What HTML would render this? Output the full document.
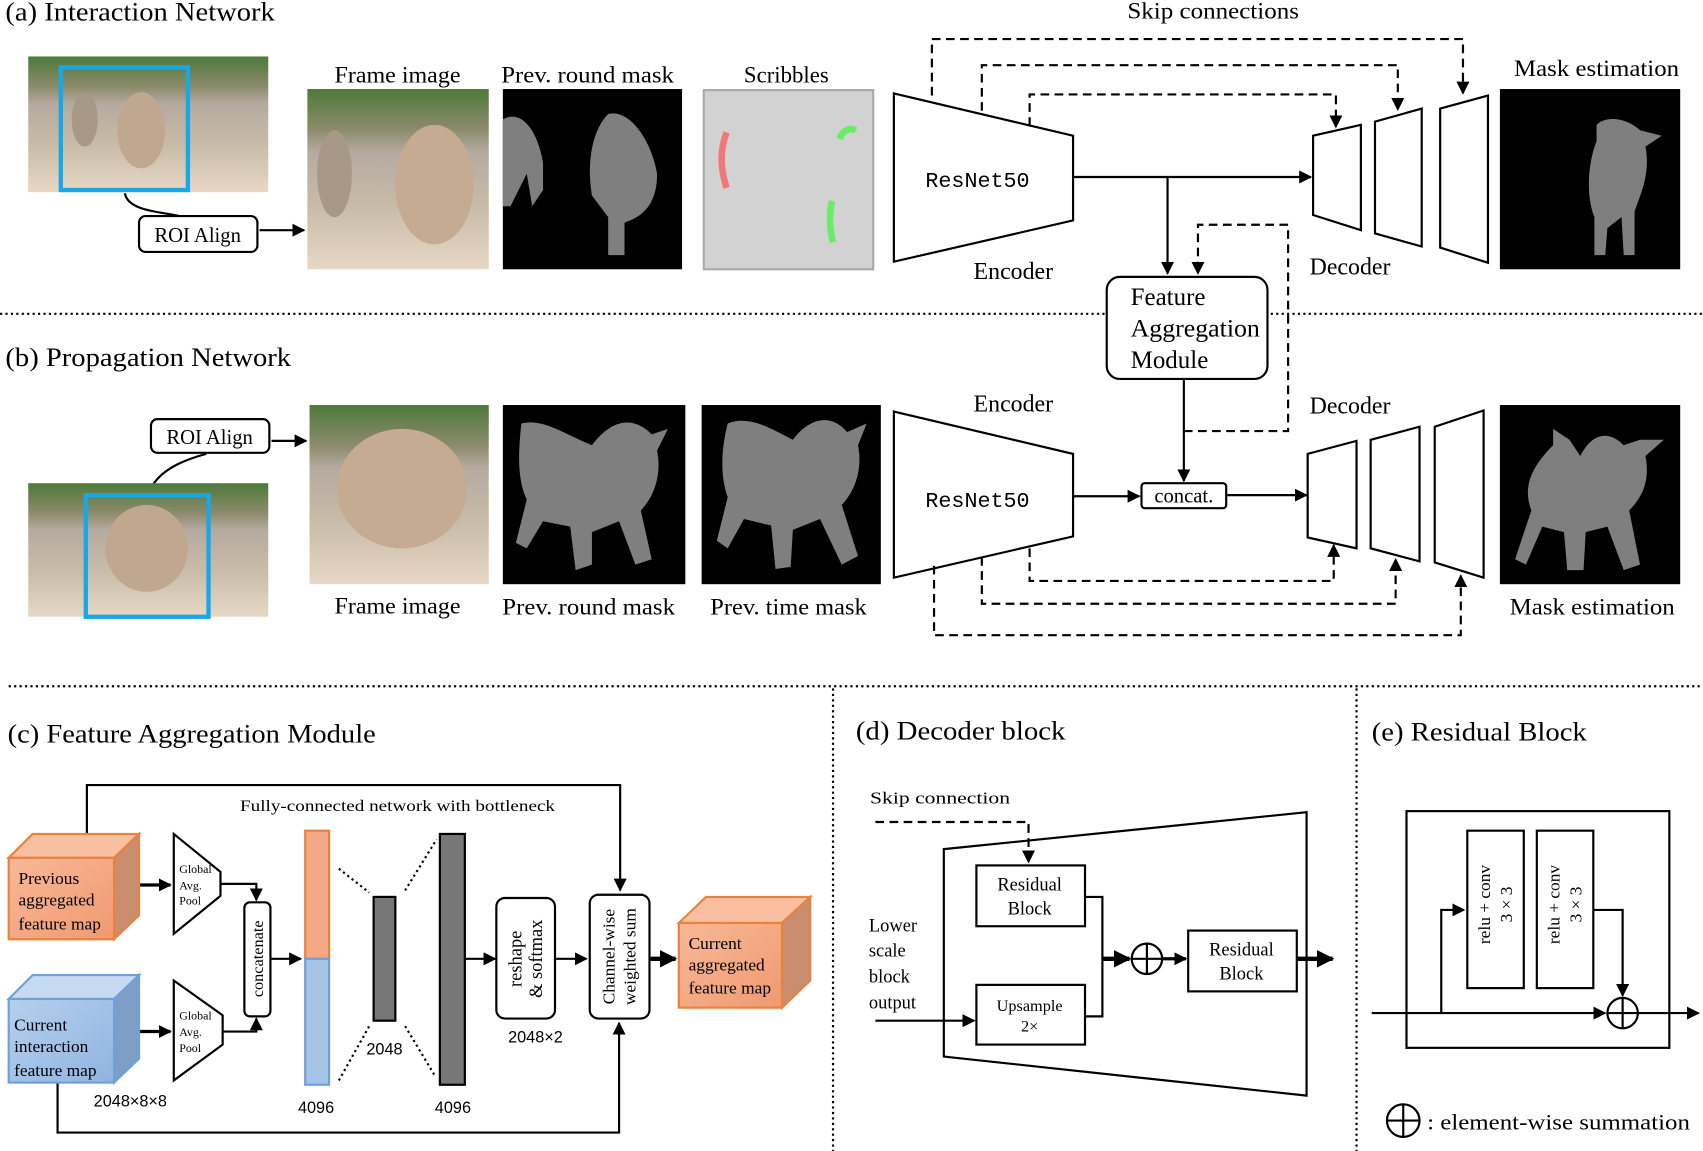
<!DOCTYPE html>
<html><head><meta charset="utf-8"><style>
html,body{margin:0;padding:0;background:#fff;width:1703px;height:1151px;overflow:hidden}
svg{display:block}
text{font-family:"Liberation Serif",serif;fill:#000}
.m{font-family:"Liberation Mono",monospace}
.s{font-family:"Liberation Sans",sans-serif}
</style></head><body>
<svg width="1703" height="1151" viewBox="0 0 1568 1060" preserveAspectRatio="none" xmlns="http://www.w3.org/2000/svg">
<defs>
<marker id="a" viewBox="0 0 10 10" refX="9" refY="5" markerWidth="6" markerHeight="6" orient="auto"><path d="M0,0L10,5L0,10z" fill="#000"/></marker>
<marker id="b" viewBox="0 0 10 10" refX="9" refY="5" markerWidth="4" markerHeight="4" orient="auto"><path d="M0,0L10,5L0,10z" fill="#000"/></marker>
<linearGradient id="ph" x1="0" y1="0" x2="0" y2="1"><stop offset="0" stop-color="#4e7a3a"/><stop offset="0.22" stop-color="#8b8a6a"/><stop offset="0.35" stop-color="#b5aaa0"/><stop offset="0.65" stop-color="#c8bba8"/><stop offset="1" stop-color="#e6d8c4"/></linearGradient>
<linearGradient id="or" x1="0" y1="0" x2="1" y2="1"><stop offset="0" stop-color="#f8b898"/><stop offset="1" stop-color="#f09a70"/></linearGradient>
<linearGradient id="bl" x1="0" y1="0" x2="1" y2="1"><stop offset="0" stop-color="#b6d0ee"/><stop offset="1" stop-color="#8fb4e0"/></linearGradient>
</defs>
<g fill="none" stroke="#000" stroke-width="2">
<!-- (a) -->
<text x="5" y="19" font-size="24" stroke="none" textLength="248" lengthAdjust="spacingAndGlyphs">(a) Interaction Network</text>
<rect x="26" y="52" width="221" height="125" fill="url(#ph)" stroke="none"/>
<ellipse cx="130" cy="120" rx="22" ry="35" fill="#c0a890" stroke="none"/>
<ellipse cx="78" cy="110" rx="12" ry="25" fill="#a89888" stroke="none"/>
<rect x="56" y="62" width="117" height="113" stroke="#1aa7e6" stroke-width="4"/>
<path d="M115,178 C118,195 150,195 165,199"/>
<rect x="128" y="199" width="109" height="33" rx="6"/>
<text x="182" y="223" font-size="19" text-anchor="middle" stroke="none">ROI Align</text>
<line x1="239" y1="212" x2="280" y2="212" marker-end="url(#a)"/>
<rect x="283" y="82" width="167" height="166" fill="url(#ph)" stroke="none"/>
<ellipse cx="400" cy="170" rx="36" ry="55" fill="#c4ab92" stroke="none"/>
<ellipse cx="308" cy="160" rx="16" ry="40" fill="#a89888" stroke="none"/>
<text x="366" y="76" font-size="21" text-anchor="middle" stroke="none" textLength="116" lengthAdjust="spacingAndGlyphs">Frame image</text>
<rect x="463" y="82" width="165" height="166" fill="#000" stroke="none"/>
<path d="M463,110 C480,100 495,120 500,150 L500,175 L490,190 L485,160 L470,190 L463,190Z" fill="#7f7f7f" stroke="none"/>
<path d="M560,105 C580,100 600,130 605,160 C605,190 590,200 575,205 L575,235 L560,235 L560,200 L545,180 C540,150 545,120 560,105Z" fill="#7f7f7f" stroke="none"/>
<text x="541" y="76" font-size="21" text-anchor="middle" stroke="none" textLength="159" lengthAdjust="spacingAndGlyphs">Prev. round mask</text>
<rect x="648" y="83" width="156" height="165" fill="#d2d2d2" stroke="#aaa" stroke-width="2"/>
<path d="M669,122 C662,140 664,158 669,173" stroke="#f07878" stroke-width="6"/>
<path d="M773,128 C776,120 782,117 788,120" stroke="#66ee66" stroke-width="6"/>
<path d="M766,185 C763,200 764,212 767,223" stroke="#66ee66" stroke-width="6"/>
<text x="724" y="76" font-size="21" text-anchor="middle" stroke="none">Scribbles</text>
<path d="M823,86 L988,125 L988,203 L823,241Z"/>
<text x="900" y="172" font-size="20" text-anchor="middle" class="m" stroke="none">ResNet50</text>
<text x="933" y="257" font-size="22" text-anchor="middle" stroke="none">Encoder</text>
<line x1="988" y1="163" x2="1207" y2="163" marker-end="url(#a)"/>
<path d="M1209,125 L1253,115 L1253,212 L1209,198Z"/>
<path d="M1266,112 L1309,100 L1309,227 L1266,215Z"/>
<path d="M1326,100 L1370,88 L1370,242 L1326,228Z"/>
<text x="1243" y="253" font-size="22" text-anchor="middle" stroke="none">Decoder</text>
<rect x="1381" y="82" width="166" height="166" fill="#000" stroke="none"/>
<path d="M1470,115 C1480,105 1500,110 1510,120 L1530,125 L1515,135 C1520,160 1510,180 1505,195 L1505,235 L1495,235 L1493,200 L1480,210 L1478,235 L1468,235 L1468,200 C1460,180 1462,150 1470,130Z" fill="#7f7f7f" stroke="none"/>
<text x="1470" y="70" font-size="21" text-anchor="middle" stroke="none" textLength="152" lengthAdjust="spacingAndGlyphs">Mask estimation</text>
<g stroke-dasharray="8,5">
<path d="M858,88 L858,36 L1347,36 L1347,86" marker-end="url(#a)"/>
<path d="M904,102 L904,60 L1287,60 L1287,101" marker-end="url(#a)"/>
<path d="M948,116 L948,87 L1230,87 L1230,117" marker-end="url(#a)"/>
<path d="M1090,397 L1186,397 L1186,207 L1103,207 L1103,252" marker-end="url(#a)"/>
</g>
<text x="1117" y="17" font-size="21" text-anchor="middle" stroke="none" textLength="158" lengthAdjust="spacingAndGlyphs">Skip connections</text>
<line x1="1075" y1="163" x2="1075" y2="252" marker-end="url(#a)"/>
<line x1="0" y1="289" x2="1568" y2="289" stroke-dasharray="2,3"/>
<rect x="1019" y="255" width="148" height="94" rx="12" fill="#fff"/>
<text x="1041" y="281" font-size="23" stroke="none">Feature</text>
<text x="1041" y="310" font-size="23" stroke="none" textLength="119" lengthAdjust="spacingAndGlyphs">Aggregation</text>
<text x="1041" y="339" font-size="23" stroke="none">Module</text>
<!-- (b) -->
<text x="5" y="337" font-size="24" stroke="none" textLength="263" lengthAdjust="spacingAndGlyphs">(b) Propagation Network</text>
<rect x="139" y="386" width="109" height="31" rx="6"/>
<text x="193" y="409" font-size="19" text-anchor="middle" stroke="none">ROI Align</text>
<line x1="250" y1="406" x2="282" y2="406" marker-end="url(#a)"/>
<path d="M140,448 C150,430 175,422 190,418"/>
<rect x="26" y="445" width="221" height="123" fill="url(#ph)" stroke="none"/>
<ellipse cx="135" cy="505" rx="38" ry="40" fill="#c0a890" stroke="none"/>
<rect x="79" y="456" width="113" height="112" stroke="#1aa7e6" stroke-width="4"/>
<rect x="285" y="373" width="165" height="165" fill="url(#ph)" stroke="none"/>
<ellipse cx="370" cy="450" rx="60" ry="55" fill="#c4ab92" stroke="none"/>
<text x="366" y="565" font-size="21" text-anchor="middle" stroke="none" textLength="116" lengthAdjust="spacingAndGlyphs">Frame image</text>
<rect x="463" y="373" width="168" height="165" fill="#000" stroke="none"/>
<path d="M480,390 C500,385 520,400 545,410 C560,390 580,380 600,400 L615,395 L605,415 C610,440 600,460 590,470 L600,515 L585,520 L570,480 L545,490 L545,520 L530,525 L525,485 L500,480 L485,505 L475,500 L485,460 C475,440 478,410 480,390Z" fill="#7f7f7f" stroke="none"/>
<text x="542" y="566" font-size="21" text-anchor="middle" stroke="none" textLength="159" lengthAdjust="spacingAndGlyphs">Prev. round mask</text>
<rect x="646" y="373" width="165" height="165" fill="#000" stroke="none"/>
<path d="M670,390 C690,382 710,395 730,405 C745,385 765,380 780,398 L798,390 L790,410 C795,435 785,455 775,465 L790,512 L775,520 L755,478 L730,488 L728,522 L714,524 L710,484 L685,478 L670,505 L660,498 L670,458 C662,435 665,410 670,390Z" fill="#7f7f7f" stroke="none"/>
<text x="726" y="566" font-size="21" text-anchor="middle" stroke="none" textLength="144" lengthAdjust="spacingAndGlyphs">Prev. time mask</text>
<path d="M823,379 L988,418 L988,494 L823,532Z"/>
<text x="900" y="467" font-size="20" text-anchor="middle" class="m" stroke="none">ResNet50</text>
<text x="933" y="379" font-size="22" text-anchor="middle" stroke="none">Encoder</text>
<line x1="1090" y1="349" x2="1090" y2="443" marker-end="url(#a)"/>
<line x1="988" y1="457" x2="1049" y2="457" marker-end="url(#a)"/>
<rect x="1051" y="445" width="78" height="23" rx="3"/>
<text x="1090" y="463" font-size="19" text-anchor="middle" stroke="none">concat.</text>
<line x1="1130" y1="456" x2="1203" y2="456" marker-end="url(#a)"/>
<path d="M1204,418 L1249,406 L1249,505 L1204,495Z"/>
<path d="M1262,405 L1307,393 L1307,517 L1262,505Z"/>
<path d="M1321,393 L1366,378 L1366,532 L1321,518Z"/>
<text x="1243" y="381" font-size="22" text-anchor="middle" stroke="none">Decoder</text>
<rect x="1381" y="373" width="166" height="165" fill="#000" stroke="none"/>
<path d="M1430,395 L1445,405 L1455,420 C1465,400 1480,395 1495,410 L1510,405 L1532,405 L1515,420 C1520,445 1510,460 1500,470 L1510,520 L1495,525 L1480,485 L1460,490 L1458,525 L1443,525 L1440,490 L1420,485 L1405,520 L1395,515 L1410,470 C1400,445 1415,425 1430,410Z" fill="#7f7f7f" stroke="none"/>
<text x="1466" y="566" font-size="21" text-anchor="middle" stroke="none" textLength="152" lengthAdjust="spacingAndGlyphs">Mask estimation</text>
<g stroke-dasharray="8,5">
<path d="M948,505 L948,535 L1228,535 L1228,502" marker-end="url(#a)"/>
<path d="M904,513 L904,556 L1285,556 L1285,515" marker-end="url(#a)"/>
<path d="M860,521 L860,585 L1345,585 L1345,530" marker-end="url(#a)"/>
</g>
<line x1="8" y1="632" x2="1565" y2="632" stroke-dasharray="2,3"/>
<line x1="767" y1="634" x2="767" y2="1060" stroke-dasharray="2,3"/>
<line x1="1249" y1="634" x2="1249" y2="1060" stroke-dasharray="2,3"/>
<!-- (c) -->
<text x="7" y="684" font-size="24" stroke="none" textLength="339" lengthAdjust="spacingAndGlyphs">(c) Feature Aggregation Module</text>
<text x="366" y="747" font-size="15" text-anchor="middle" stroke="none" textLength="290" lengthAdjust="spacingAndGlyphs">Fully-connected network with bottleneck</text>
<path d="M80,768 L80,723 L571,723 L571,820" marker-end="url(#a)"/>
<path d="M53,997 L53,1043 L570,1043 L570,942" marker-end="url(#a)"/>
<path d="M8,790 L30,768 L128,768 L105,790Z" fill="#f8c0a0" stroke="#e8823f"/>
<path d="M105,790 L128,768 L128,843 L105,865Z" fill="#c98e70" stroke="#e8823f"/>
<rect x="8" y="790" width="97" height="75" fill="url(#or)" stroke="#e8823f"/>
<text x="17" y="814" font-size="16" stroke="none">Previous</text>
<text x="17" y="834" font-size="16" stroke="none">aggregated</text>
<text x="17" y="856" font-size="16" stroke="none">feature map</text>
<path d="M8,920 L30,898 L128,898 L105,920Z" fill="#c6daf2" stroke="#6fa0d8"/>
<path d="M105,920 L128,898 L128,975 L105,997Z" fill="#7d9ec6" stroke="#6fa0d8"/>
<rect x="8" y="920" width="97" height="77" fill="url(#bl)" stroke="#6fa0d8"/>
<text x="13" y="949" font-size="16" stroke="none">Current</text>
<text x="13" y="969" font-size="16" stroke="none">interaction</text>
<text x="13" y="991" font-size="16" stroke="none">feature map</text>
<text x="120" y="1019" font-size="15" text-anchor="middle" class="s" stroke="none">2048×8×8</text>
<line x1="129" y1="815" x2="157" y2="815" stroke-width="3" marker-end="url(#b)"/>
<line x1="129" y1="950" x2="157" y2="950" stroke-width="3" marker-end="url(#b)"/>
<path d="M160,768 L203,803 L203,825 L160,860Z"/>
<text x="165" y="804" font-size="11" stroke="none">Global</text>
<text x="165" y="819" font-size="11" stroke="none">Avg.</text>
<text x="165" y="833" font-size="11" stroke="none">Pool</text>
<path d="M160,903 L205,935 L205,962 L160,995Z"/>
<text x="165" y="939" font-size="11" stroke="none">Global</text>
<text x="165" y="954" font-size="11" stroke="none">Avg.</text>
<text x="165" y="969" font-size="11" stroke="none">Pool</text>
<path d="M203,814 L236,814 L236,829" marker-end="url(#a)"/>
<path d="M205,950 L236,950 L236,938" marker-end="url(#a)"/>
<rect x="225" y="831" width="24" height="105" rx="5"/>
<text transform="translate(242,883) rotate(-90)" font-size="15" text-anchor="middle" stroke="none">concatenate</text>
<line x1="250" y1="883" x2="277" y2="883" marker-end="url(#a)"/>
<rect x="281" y="765" width="22" height="118" fill="#f4a886" stroke="#e8823f"/>
<rect x="281" y="883" width="22" height="116" fill="#a6c4e6" stroke="#6fa0d8"/>
<g stroke-dasharray="2,3"><line x1="312" y1="800" x2="340" y2="822"/><line x1="373" y1="820" x2="402" y2="773"/><line x1="312" y1="995" x2="340" y2="945"/><line x1="373" y1="945" x2="400" y2="990"/></g>
<rect x="344" y="826" width="20" height="114" fill="#777"/>
<rect x="405" y="768" width="23" height="231" fill="#777"/>
<text x="354" y="971" font-size="15" text-anchor="middle" class="s" stroke="none">2048</text>
<text x="291" y="1025" font-size="15" text-anchor="middle" class="s" stroke="none">4096</text>
<text x="417" y="1025" font-size="15" text-anchor="middle" class="s" stroke="none">4096</text>
<line x1="428" y1="883" x2="456" y2="883" marker-end="url(#a)"/>
<rect x="457" y="827" width="54" height="111" rx="8"/>
<text transform="translate(480,883) rotate(-90)" font-size="17" text-anchor="middle" stroke="none">reshape</text>
<text transform="translate(499,883) rotate(-90)" font-size="17" text-anchor="middle" stroke="none">&amp; softmax</text>
<text x="493" y="960" font-size="15" text-anchor="middle" class="s" stroke="none">2048×2</text>
<line x1="512" y1="883" x2="540" y2="883" marker-end="url(#a)"/>
<rect x="543" y="824" width="55" height="114" rx="8"/>
<text transform="translate(566,881) rotate(-90)" font-size="16" text-anchor="middle" stroke="none">Channel-wise</text>
<text transform="translate(585,881) rotate(-90)" font-size="16" text-anchor="middle" stroke="none">weighted sum</text>
<line x1="599" y1="883" x2="622" y2="883" stroke-width="4" marker-end="url(#b)"/>
<path d="M625,850 L650,826 L746,826 L720,850Z" fill="#f8c0a0" stroke="#e8823f"/>
<path d="M720,850 L746,826 L746,903 L720,928Z" fill="#c98e70" stroke="#e8823f"/>
<rect x="625" y="850" width="95" height="78" fill="url(#or)" stroke="#e8823f"/>
<text x="634" y="874" font-size="16" stroke="none">Current</text>
<text x="634" y="894" font-size="16" stroke="none">aggregated</text>
<text x="634" y="915" font-size="16" stroke="none">feature map</text>
<!-- (d) -->
<text x="788" y="681" font-size="24" stroke="none" textLength="193" lengthAdjust="spacingAndGlyphs">(d) Decoder block</text>
<text x="801" y="740" font-size="16" stroke="none" textLength="129" lengthAdjust="spacingAndGlyphs">Skip connection</text>
<path d="M869,782 L1203,748 L1203,1009 L869,973Z"/>
<path d="M806,757 L947,757 L947,794" stroke-dasharray="8,5" marker-end="url(#a)"/>
<rect x="899" y="797" width="100" height="56" fill="#fff"/>
<text x="948" y="820" font-size="17" text-anchor="middle" stroke="none">Residual</text>
<text x="948" y="842" font-size="17" text-anchor="middle" stroke="none">Block</text>
<rect x="899" y="907" width="100" height="55"/>
<text x="948" y="931" font-size="15" text-anchor="middle" stroke="none">Upsample</text>
<text x="948" y="950" font-size="15" text-anchor="middle" stroke="none">2×</text>
<path d="M999,826 L1015,826 L1015,936 L999,936"/>
<line x1="1015" y1="883" x2="1040" y2="883" stroke-width="4" marker-end="url(#b)"/>
<circle cx="1056" cy="883" r="14"/><line x1="1042" y1="883" x2="1070" y2="883"/><line x1="1056" y1="869" x2="1056" y2="897"/>
<line x1="1070" y1="883" x2="1092" y2="883" stroke-width="3" marker-end="url(#b)"/>
<rect x="1094" y="857" width="100" height="56"/>
<text x="1143" y="880" font-size="17" text-anchor="middle" stroke="none">Residual</text>
<text x="1143" y="902" font-size="17" text-anchor="middle" stroke="none">Block</text>
<line x1="1195" y1="883" x2="1227" y2="883" stroke-width="4" marker-end="url(#b)"/>
<text x="800" y="858" font-size="17" stroke="none">Lower</text>
<text x="800" y="881" font-size="17" stroke="none">scale</text>
<text x="800" y="905" font-size="17" stroke="none">block</text>
<text x="800" y="929" font-size="17" stroke="none">output</text>
<line x1="806" y1="940" x2="897" y2="940" marker-end="url(#a)"/>
<!-- (e) -->
<text x="1263" y="682" font-size="24" stroke="none" textLength="198" lengthAdjust="spacingAndGlyphs">(e) Residual Block</text>
<rect x="1295" y="747" width="242" height="218"/>
<rect x="1351" y="765" width="52" height="145"/>
<rect x="1415" y="765" width="52" height="145"/>
<text transform="translate(1372,833) rotate(-90)" font-size="16" text-anchor="middle" stroke="none">relu + conv</text>
<text transform="translate(1392,833) rotate(-90)" font-size="16" text-anchor="middle" stroke="none">3 × 3</text>
<text transform="translate(1436,833) rotate(-90)" font-size="16" text-anchor="middle" stroke="none">relu + conv</text>
<text transform="translate(1456,833) rotate(-90)" font-size="16" text-anchor="middle" stroke="none">3 × 3</text>
<line x1="1263" y1="933" x2="1478" y2="933" marker-end="url(#a)"/>
<path d="M1327,933 L1327,838 L1348,838" marker-end="url(#a)"/>
<path d="M1467,838 L1494,838 L1494,917" marker-end="url(#a)"/>
<circle cx="1494" cy="933" r="14"/><line x1="1480" y1="933" x2="1508" y2="933"/><line x1="1494" y1="919" x2="1494" y2="947"/>
<line x1="1508" y1="933" x2="1564" y2="933" marker-end="url(#a)"/>
<circle cx="1292" cy="1032" r="15"/><line x1="1277" y1="1032" x2="1307" y2="1032"/><line x1="1292" y1="1017" x2="1292" y2="1047"/>
<text x="1314" y="1040" font-size="20" stroke="none" textLength="242" lengthAdjust="spacingAndGlyphs">: element-wise summation</text>
</g>
</svg>
</body></html>
